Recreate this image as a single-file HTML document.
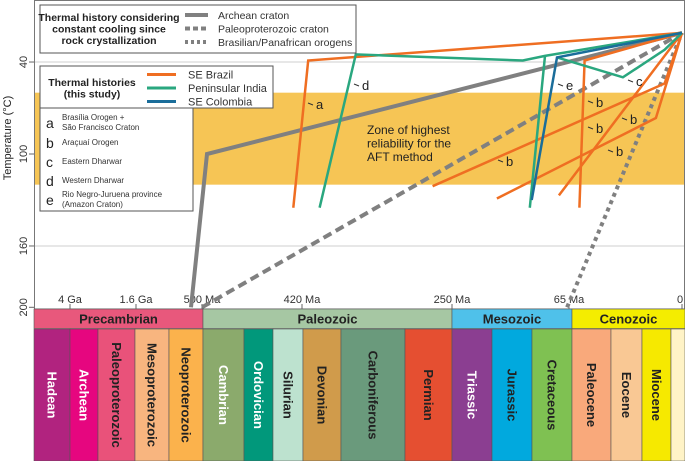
<!DOCTYPE html>
<html><head><meta charset="utf-8"><style>
html,body{margin:0;padding:0;background:#fff;}
svg{display:block;font-family:"Liberation Sans",Arial,sans-serif;}
</style></head><body>
<svg id="chart" width="685" height="461" viewBox="0 0 685 461">
<g id="bg"></g>
<g id="marks"></g>
<g id="ann"></g>
<g id="timescale"></g>
</svg>
<script>
// ---- data ----
const ageTicks = [4000, 1600, 500, 420, 250, 65, 0];
const ageTickLabels = ["4 Ga", "1.6 Ga", "500 Ma", "420 Ma", "250 Ma", "65 Ma", "0"];
const tempTicks = [40, 100, 160, 200];
const archeanAges = [683, 496, 0];
const archeanTemps = [200, 100, 21];
const paleoprotAges = [500, 0];
const paleoprotTemps = [200, 21];
const brasilianAges = [68, 0];
const brasilianTemps = [200, 21];
const orangeAAges = [427, 413, 0];
const orangeATemps = [135, 39, 21];
const orangeB1Ages = [59, 56, 0];
const orangeB1Temps = [135, 39, 21];
const orangeB2Ages = [272, 10, 0];
const orangeB2Temps = [121, 54, 21];
const orangeB3Ages = [179, 15, 0];
const orangeB3Temps = [129, 76.5, 21];
const orangeB4Ages = [81, 0];
const orangeB4Temps = [127, 21];
const greenDAges = [400, 359, 138, 103, 0];
const greenDTemps = [135, 35, 39, 36, 21];
const greenEAges = [127, 103];
const greenETemps = [135, 36];
const greenCAges = [84, 34, 10, 0];
const greenCTemps = [37, 50, 32, 21];
const blueAges = [124, 84, 0];
const blueTemps = [130, 37, 21];

// ---- scales ----
const ageDom = [4600, 4000, 1600, 500, 420, 250, 65, 0];
const ageRng = [34, 70, 136, 202, 302, 452, 569, 682];
function xAge(a){
  for(let i=0;i<ageDom.length-1;i++){
    const a0=ageDom[i],a1=ageDom[i+1];
    if(a<=a0 && a>=a1){return ageRng[i]+(a0-a)/(a0-a1)*(ageRng[i+1]-ageRng[i]);}
  }
  return a>ageDom[0]?ageRng[0]:ageRng[ageRng.length-1];
}
function yT(t){return 0.7 + t*1.533;}

const NS="http://www.w3.org/2000/svg";
function mk(tag, parent, attrs){
  const e=document.createElementNS(NS,tag);
  for(const k in attrs) e.setAttribute(k, attrs[k]);
  parent.appendChild(e); return e;
}
const bg=document.getElementById('bg'), marks=document.getElementById('marks'),
      ann=document.getElementById('ann'), ts=document.getElementById('timescale');

// plot background
let r=mk('rect',bg,{x:34,y:0,width:651,height:309,fill:'#fff'});


// gridlines
tempTicks.forEach(t=>{
  if(t===200) return;
  const l=mk('line',bg,{x1:34,x2:685,y1:yT(t),y2:yT(t),stroke:'#cfcfcf','stroke-width':1});
  
  
});
// AFT band
r=mk('rect',bg,{x:34,y:yT(60),width:651,height:yT(120)-yT(60),fill:'#f6c555'});


// y tick labels
tempTicks.forEach(t=>{
  const y=yT(t);
  const tk=mk('line',bg,{x1:29,x2:34,y1:y,y2:y,stroke:'#666','stroke-width':1});
  
  
  const tx=mk('text',bg,{x:0,y:0,transform:`translate(27,${y}) rotate(-90)`,'text-anchor':'middle','font-size':11,fill:'#333'});
  tx.textContent=t;
  
  
});
let yt=mk('text',bg,{x:0,y:0,transform:'translate(11,138) rotate(-90)','text-anchor':'middle','font-size':11,fill:'#222'});
yt.textContent='Temperature (°C)';


// x ticks
ageTicks.forEach((a,i)=>{
  const x=xAge(a);
  const tk=mk('line',bg,{x1:x,x2:x,y1:304,y2:309,stroke:'#666','stroke-width':1});
  
  
  const tx=mk('text',bg,{x:i===6?Math.min(x,680):x,y:303,'text-anchor':'middle','font-size':11,fill:'#333'});
  tx.textContent=ageTickLabels[i];
  
  
});

// series
function series(ages, temps, color, width, dash, name){
  const pts=ages.map((a,i)=>xAge(a).toFixed(1)+','+yT(temps[i]).toFixed(1)).join(' ');
  const p=mk('polyline',marks,{points:pts,fill:'none',stroke:color,'stroke-width':width,'stroke-linejoin':'miter'});
  if(dash) p.setAttribute('stroke-dasharray',dash);
  
  
}
const GR='#808080', OR='#ef6e22', GN='#2aa77f', BL='#1a6d9a';
series(archeanAges, archeanTemps, GR, 4, null, 'archean-craton-line');
series(paleoprotAges, paleoprotTemps, GR, 4, '9,5', 'paleoproterozoic-craton-line');
series(brasilianAges, brasilianTemps, GR, 4, '4,4', 'brasilian-orogens-line');
series(orangeAAges, orangeATemps, OR, 2.5, null, 'se-brazil-a');
series(orangeB1Ages, orangeB1Temps, OR, 2.5, null, 'se-brazil-b1');
series(orangeB2Ages, orangeB2Temps, OR, 2.5, null, 'se-brazil-b2');
series(orangeB3Ages, orangeB3Temps, OR, 2.5, null, 'se-brazil-b3');
series(orangeB4Ages, orangeB4Temps, OR, 2.5, null, 'se-brazil-b4');
series(greenDAges, greenDTemps, GN, 2.5, null, 'india-d');
series(greenEAges, greenETemps, GN, 2.5, null, 'india-e');
series(greenCAges, greenCTemps, GN, 2.5, null, 'india-c');
series(blueAges, blueTemps, BL, 2.5, null, 'colombia-e');

// axis frame
r=mk('rect',marks,{x:34.5,y:0.5,width:650,height:308.5,fill:'none',stroke:'#777','stroke-width':1});



// letter labels
const labels=[['a',316,109],['d',362,90],['e',566,90],['c',636,86],['b',596,107],['b',596,133],['b',630,124],['b',616,156],['b',506,166]];
labels.forEach((L,i)=>{
  const tk=mk('line',ann,{x1:L[1]-8,x2:L[1]-3,y1:L[2]-6,y2:L[2]-4,stroke:'#333','stroke-width':1});
  
  
  const t=mk('text',ann,{x:L[1],y:L[2],'font-size':13,fill:'#222'});
  t.textContent=L[0];
  
  
});
// zone text
['Zone of highest','reliability for the','AFT method'].forEach((s,i)=>{
  const t=mk('text',ann,{x:367,y:134+i*13.5,'font-size':12,fill:'#222'});
  t.textContent=s;
  
  
});

// legend 1
r=mk('rect',ann,{x:40,y:5,width:316,height:48,fill:'#fff',stroke:'#555','stroke-width':1});


['Thermal history considering','constant cooling since','rock crystallization'].forEach((s,i)=>{
  const t=mk('text',ann,{x:109,y:21+i*11.5,'font-size':10.5,'font-weight':'bold','text-anchor':'middle',fill:'#222'});
  t.textContent=s;
  
  
});
[['Archean craton',null],['Paleoproterozoic craton','5,3'],['Brasilian/Panafrican orogens','3,3']].forEach((e,i)=>{
  const y=15+i*13.5;
  const l=mk('line',ann,{x1:185,x2:208,y1:y,y2:y,stroke:GR,'stroke-width':4});
  if(e[1]) l.setAttribute('stroke-dasharray',e[1]);
  
  
  const t=mk('text',ann,{x:218,y:y+4,'font-size':10.5,fill:'#333'});
  t.textContent=e[0];
  
  
});
// legend 2
r=mk('rect',ann,{x:40,y:66,width:233,height:42,fill:'#fff',stroke:'#555','stroke-width':1});


['Thermal histories','(this study)'].forEach((s,i)=>{
  const t=mk('text',ann,{x:92,y:86+i*11.5,'font-size':10.5,'font-weight':'bold','text-anchor':'middle',fill:'#222'});
  t.textContent=s;
  
  
});
[['SE Brazil',OR],['Peninsular India',GN],['SE Colombia',BL]].forEach((e,i)=>{
  const y=74.5+i*13.5;
  const l=mk('line',ann,{x1:147,x2:176,y1:y,y2:y,stroke:e[1],'stroke-width':3});
  
  
  const t=mk('text',ann,{x:188,y:y+4,'font-size':11,fill:'#333'});
  t.textContent=e[0];
  
  
});
// legend 3
r=mk('rect',ann,{x:40,y:108,width:153,height:103,fill:'#fff',stroke:'#555','stroke-width':1});


[['a',['Brasília Orogen +','São Francisco Craton'],123],['b',['Araçuaí Orogen'],143],['c',['Eastern Dharwar'],162],['d',['Western Dharwar'],181],['e',['Rio Negro-Juruena province','(Amazon Craton)'],200]].forEach((e,i)=>{
  const t=mk('text',ann,{x:46,y:e[2]+5,'font-size':14,fill:'#222'});
  t.textContent=e[0];
  
  
  e[1].forEach((s,j)=>{
    const off=e[1].length===2?(j===0?-3:7):2;
    const tt=mk('text',ann,{x:62,y:e[2]+off,'font-size':8,fill:'#333'});
    tt.textContent=s;
    
    
  });
});

// geologic time scale
const eras=[['Precambrian',34,203,'#e8587c'],['Paleozoic',203,452,'#a6c7a3'],['Mesozoic',452,572,'#4fc1ea'],['Cenozoic',572,685,'#f4ed00']];
eras.forEach(e=>{
  const rr=mk('rect',ts,{x:e[1],y:309,width:e[2]-e[1],height:19.5,fill:e[3],stroke:'#555','stroke-width':0.6});
  
  
  const t=mk('text',ts,{x:(e[1]+e[2])/2,y:323.5,'font-size':13,'font-weight':'bold','text-anchor':'middle',fill:'#222'});
  t.textContent=e[0];
  
  
});
const periods=[['Hadean',34,70,'#b1237f','#fff'],['Archean',70,98,'#e6067f','#fff'],['Paleoproterozoic',98,135,'#e9527a','#222'],['Mesoproterozoic',135,169,'#f8b57f','#222'],['Neoproterozoic',169,203,'#fbb24c','#222'],['Cambrian',203,244,'#8baa6c','#fff'],['Ordovician',244,273,'#01987b','#fff'],['Silurian',273,303,'#bde2cf','#222'],['Devonian',303,341,'#d09b4b','#222'],['Carboniferous',341,405,'#6a9a7c','#222'],['Permian',405,452,'#e54f31','#222'],['Triassic',452,492,'#8b3e91','#fff'],['Jurassic',492,532,'#01a9de','#222'],['Cretaceous',532,572,'#7fc152','#222'],['Paleocene',572,611,'#f9a97b','#222'],['Eocene',611,642,'#f9c894','#222'],['Miocene',642,671,'#f6e900','#222'],['',671,685,'#fff3c6','#222']];
periods.forEach((p,i)=>{
  const rr=mk('rect',ts,{x:p[1],y:329,width:p[2]-p[1],height:132,fill:p[3],stroke:'#555','stroke-width':0.6});
  
  
  if(p[0]){
    const t=mk('text',ts,{x:0,y:0,transform:`translate(${(p[1]+p[2])/2-4.5},395) rotate(90)`,'font-size':13,'font-weight':'bold','text-anchor':'middle',fill:p[4]});
    t.textContent=p[0];
    
    
  }
});
</script>
</body></html>
